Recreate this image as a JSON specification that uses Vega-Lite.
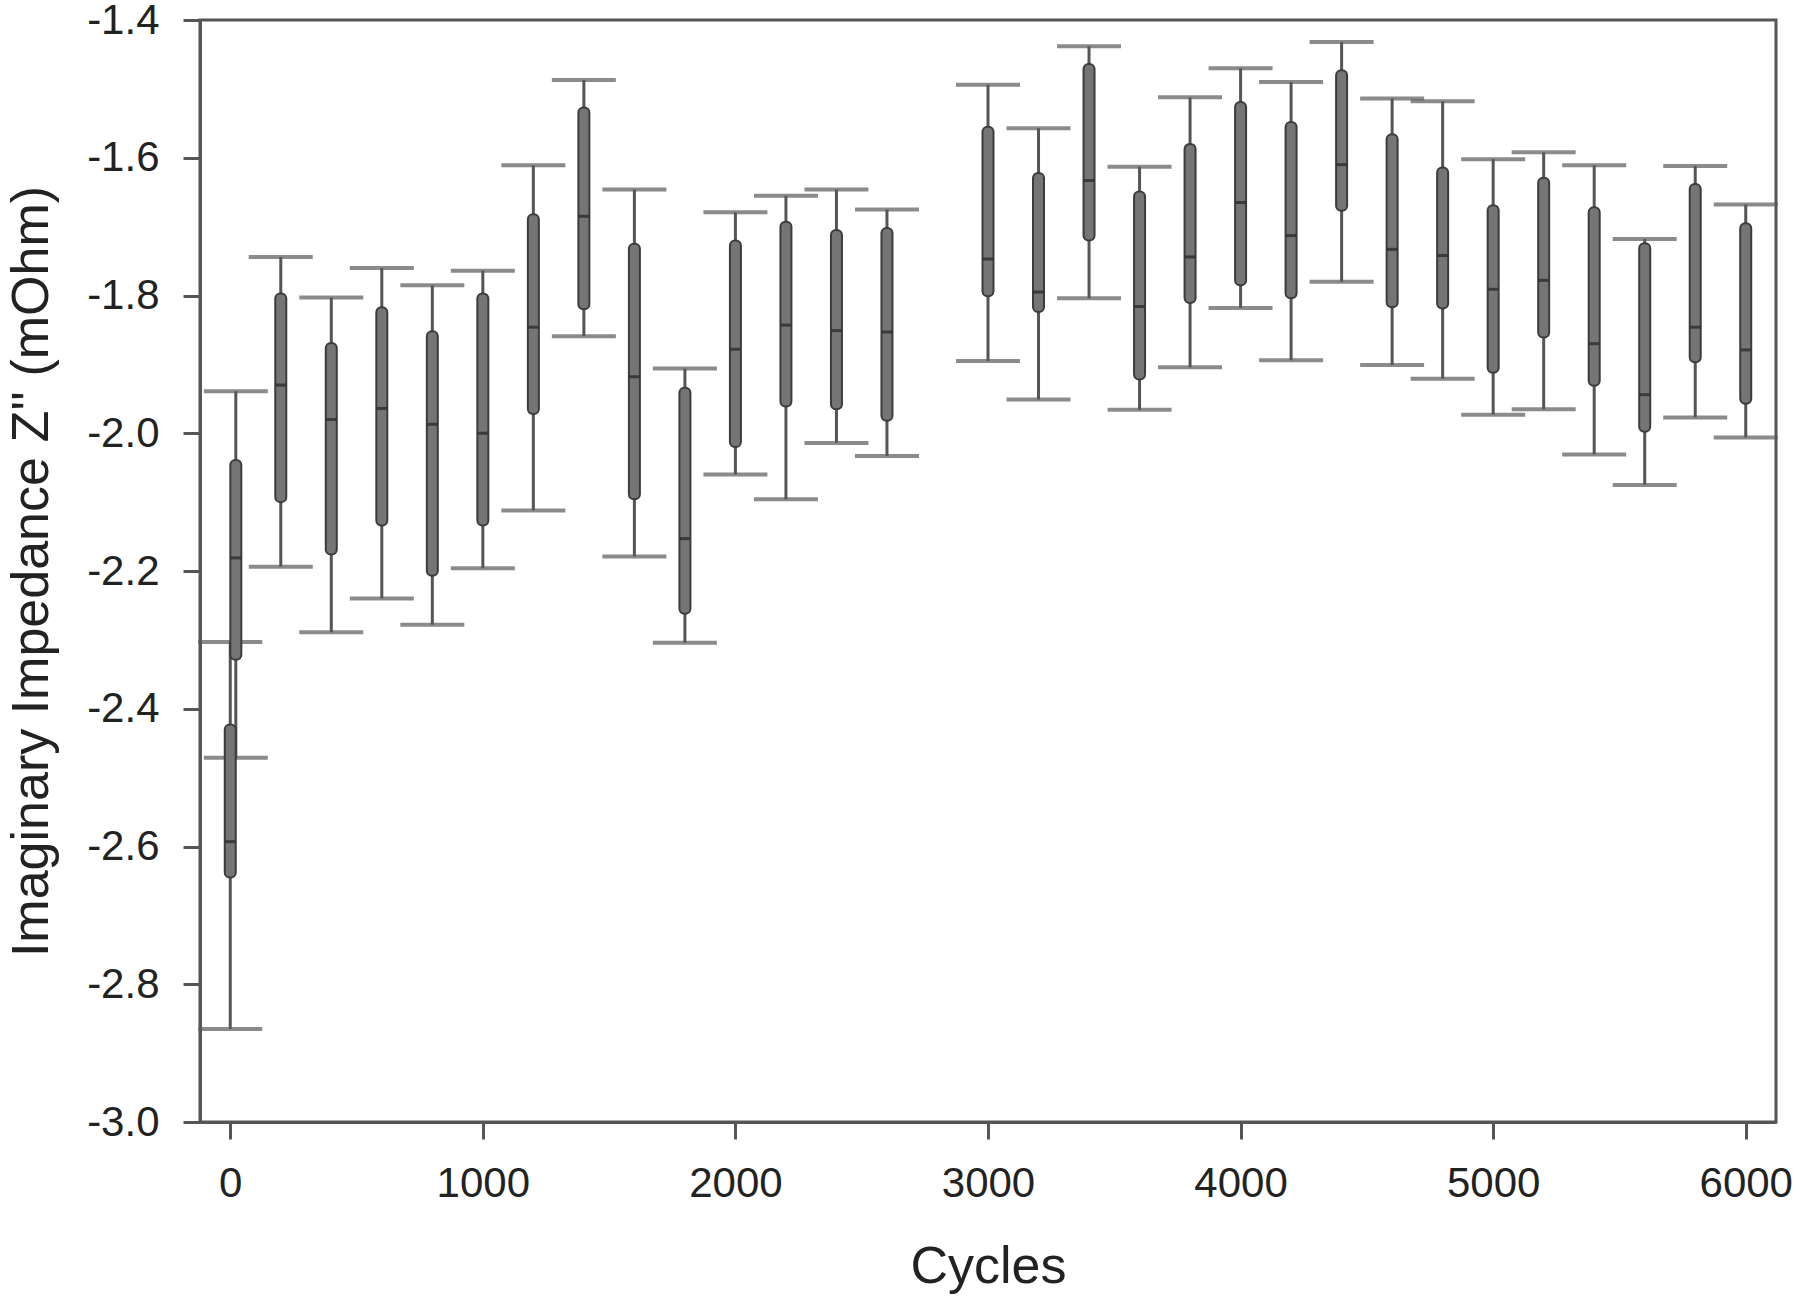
{
  "$schema": "https://vega.github.io/schema/vega-lite/v6.json",
  "description": "Box plots of imaginary impedance against cycle count",
  "width": 1576,
  "height": 1102,
  "autosize": "none",
  "padding": {"left": 200, "top": 20, "right": 24, "bottom": 179},
  "background": "white",
  "data": {
    "values": [
      {"cycle": 0, "lo": -2.865, "q1": -2.645, "median": -2.593, "q3": -2.423, "hi": -2.303},
      {"cycle": 22, "lo": -2.471, "q1": -2.329, "median": -2.181, "q3": -2.039, "hi": -1.939},
      {"cycle": 200, "lo": -2.194, "q1": -2.100, "median": -1.930, "q3": -1.797, "hi": -1.744},
      {"cycle": 400, "lo": -2.289, "q1": -2.176, "median": -1.980, "q3": -1.869, "hi": -1.803},
      {"cycle": 600, "lo": -2.240, "q1": -2.134, "median": -1.964, "q3": -1.817, "hi": -1.760},
      {"cycle": 800, "lo": -2.278, "q1": -2.207, "median": -1.987, "q3": -1.852, "hi": -1.785},
      {"cycle": 1000, "lo": -2.196, "q1": -2.134, "median": -2.000, "q3": -1.797, "hi": -1.764},
      {"cycle": 1200, "lo": -2.112, "q1": -1.972, "median": -1.846, "q3": -1.682, "hi": -1.611},
      {"cycle": 1400, "lo": -1.859, "q1": -1.820, "median": -1.685, "q3": -1.527, "hi": -1.487},
      {"cycle": 1600, "lo": -2.179, "q1": -2.096, "median": -1.918, "q3": -1.725, "hi": -1.646},
      {"cycle": 1800, "lo": -2.304, "q1": -2.262, "median": -2.153, "q3": -1.934, "hi": -1.906},
      {"cycle": 2000, "lo": -2.060, "q1": -2.020, "median": -1.878, "q3": -1.720, "hi": -1.679},
      {"cycle": 2200, "lo": -2.096, "q1": -1.961, "median": -1.843, "q3": -1.693, "hi": -1.655},
      {"cycle": 2400, "lo": -2.014, "q1": -1.965, "median": -1.851, "q3": -1.705, "hi": -1.646},
      {"cycle": 2600, "lo": -2.033, "q1": -1.982, "median": -1.853, "q3": -1.702, "hi": -1.675},
      {"cycle": 3000, "lo": -1.895, "q1": -1.801, "median": -1.747, "q3": -1.555, "hi": -1.494},
      {"cycle": 3200, "lo": -1.951, "q1": -1.824, "median": -1.795, "q3": -1.622, "hi": -1.557},
      {"cycle": 3400, "lo": -1.804, "q1": -1.720, "median": -1.633, "q3": -1.464, "hi": -1.438},
      {"cycle": 3600, "lo": -1.966, "q1": -1.922, "median": -1.816, "q3": -1.649, "hi": -1.613},
      {"cycle": 3800, "lo": -1.904, "q1": -1.811, "median": -1.744, "q3": -1.580, "hi": -1.512},
      {"cycle": 4000, "lo": -1.818, "q1": -1.785, "median": -1.665, "q3": -1.519, "hi": -1.470},
      {"cycle": 4200, "lo": -1.894, "q1": -1.804, "median": -1.713, "q3": -1.548, "hi": -1.490},
      {"cycle": 4400, "lo": -1.780, "q1": -1.677, "median": -1.610, "q3": -1.473, "hi": -1.432},
      {"cycle": 4600, "lo": -1.901, "q1": -1.817, "median": -1.733, "q3": -1.566, "hi": -1.514},
      {"cycle": 4800, "lo": -1.921, "q1": -1.819, "median": -1.742, "q3": -1.614, "hi": -1.518},
      {"cycle": 5000, "lo": -1.973, "q1": -1.912, "median": -1.791, "q3": -1.669, "hi": -1.602},
      {"cycle": 5200, "lo": -1.965, "q1": -1.861, "median": -1.778, "q3": -1.629, "hi": -1.592},
      {"cycle": 5400, "lo": -2.031, "q1": -1.931, "median": -1.870, "q3": -1.672, "hi": -1.611},
      {"cycle": 5600, "lo": -2.075, "q1": -1.998, "median": -1.944, "q3": -1.724, "hi": -1.718},
      {"cycle": 5800, "lo": -1.977, "q1": -1.897, "median": -1.846, "q3": -1.638, "hi": -1.612},
      {"cycle": 6000, "lo": -2.006, "q1": -1.957, "median": -1.879, "q3": -1.695, "hi": -1.668}
    ]
  },
  "encoding": {
    "x": {
      "field": "cycle",
      "type": "quantitative",
      "scale": {"domain": [-100, 6100], "nice": false, "zero": false},
      "axis": {
        "title": "Cycles",
        "values": [0, 1000, 2000, 3000, 4000, 5000, 6000],
        "format": "d",
        "labelPadding": 24,
        "titleX": 788,
        "titleY": 144,
        "titleBaseline": "middle"
      }
    }
  },
  "layer": [
    {
      "mark": {"type": "rule", "color": "#555555", "strokeWidth": 3},
      "encoding": {
        "y": {
          "field": "lo",
          "type": "quantitative",
          "scale": {"domain": [-3.0, -1.4], "nice": false, "zero": false},
          "axis": {
            "title": "Imaginary Impedance Z'' (mOhm)",
            "values": [-3.0, -2.8, -2.6, -2.4, -2.2, -2.0, -1.8, -1.6, -1.4],
            "format": ".1f",
            "labelExpr": "replace(datum.label, '\u2212', '-')",
            "labelPadding": 24,
            "titleX": -169,
            "titleY": 551,
            "titleAngle": 270,
            "titleAlign": "center",
            "titleBaseline": "middle"
          }
        },
        "y2": {"field": "hi"}
      }
    },
    {
      "mark": {"type": "tick", "orient": "horizontal", "color": "#5a5a5a", "thickness": 4, "size": 64},
      "encoding": {"y": {"field": "hi", "type": "quantitative"}}
    },
    {
      "mark": {"type": "tick", "orient": "horizontal", "color": "#5a5a5a", "thickness": 4, "size": 64},
      "encoding": {"y": {"field": "lo", "type": "quantitative"}}
    },
    {
      "mark": {"type": "bar", "size": 11, "fill": "#757575", "stroke": "#3c3c3c", "strokeWidth": 2, "cornerRadius": 5},
      "encoding": {
        "y": {"field": "q1", "type": "quantitative"},
        "y2": {"field": "q3"}
      }
    },
    {
      "mark": {"type": "tick", "orient": "horizontal", "color": "#222222", "thickness": 3, "size": 10},
      "encoding": {"y": {"field": "median", "type": "quantitative"}}
    }
  ],
  "config": {
    "view": {"stroke": "#555555", "strokeWidth": 3},
    "axis": {
      "grid": false,
      "domainColor": "#555555",
      "domainWidth": 3,
      "tickColor": "#555555",
      "tickWidth": 3,
      "tickSize": 17,
      "labelFont": "Liberation Sans",
      "labelFontSize": 42,
      "labelColor": "#222222",
      "titleFont": "Liberation Sans",
      "titleFontSize": 52,
      "titleFontWeight": "normal",
      "titleColor": "#222222"
    }
  }
}
